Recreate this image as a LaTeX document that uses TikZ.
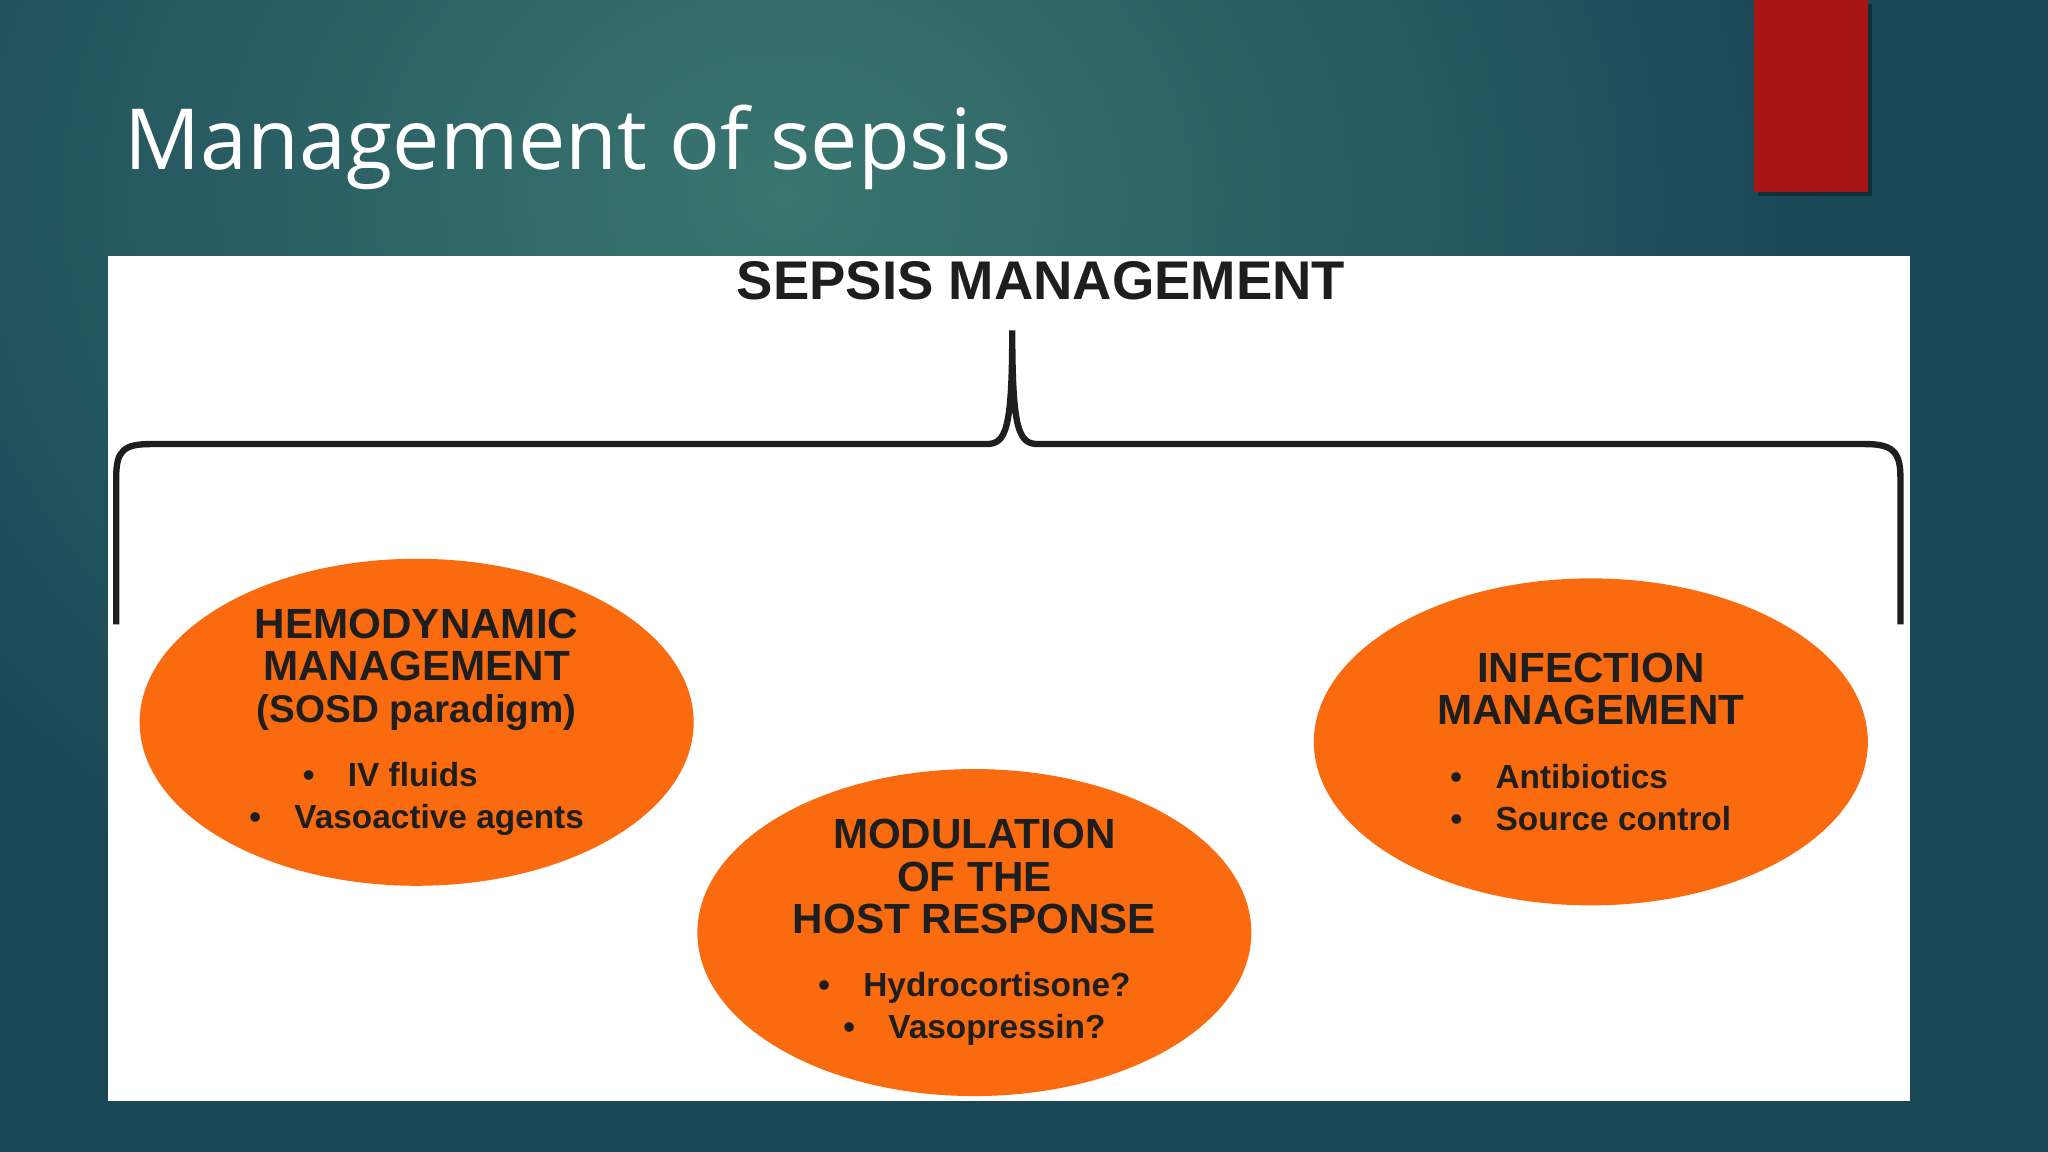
\documentclass[tikz,border=0pt]{standalone}
\usepackage{fontspec}
\setmainfont{Liberation Sans}
\newfontfamily\titlefont{Open Sans}
\usetikzlibrary{shapes.geometric,shadows}
\definecolor{bgdark}{HTML}{1A4756}
\definecolor{bglight}{HTML}{3A7670}
\definecolor{redbar}{HTML}{A81515}
\definecolor{orng}{HTML}{FA6A0E}
\definecolor{txt}{HTML}{1E1E1E}
\begin{document}
\begin{tikzpicture}[x=0.013061cm,y=-0.013061cm,
  oval/.style={ellipse,fill=orng,minimum width=5.54cm,minimum height=3.27cm,inner sep=0pt,align=center,text=txt,font=\bfseries},
]
\useasboundingbox (0,0) rectangle (1568,882);
\fill[bgdark] (0,0) rectangle (1568,882);
\shade[inner color=bglight,outer color=bgdark] (-200,-500) rectangle (1400,800);
\node[anchor=base west,text=white,font=\titlefont\fontsize{24}{30}\selectfont,inner sep=0] (title) at (95,130) {Management of sepsis};
\fill[black,opacity=0.35] (1346,3) rectangle (1433,150);
\fill[redbar] (1343,0) rectangle (1430,147);
\fill[white] (83,196) rectangle (1462,843);
\node[font=\fontsize{15.5}{18}\selectfont\bfseries,text=txt] (head) at (797,215) {SEPSIS MANAGEMENT};
\coordinate (bl) at (89,478);
\coordinate (br) at (1455,478);
\coordinate (peak) at (775,253);
\draw[line width=1.8pt,txt] (bl) -- (89,365) .. controls (89,345) and (95,340) .. (115,340) -- (755,340)
  .. controls (770,340) and (775,330) .. (peak) .. controls (775,330) and (780,340) .. (795,340) -- (1428,340)
  .. controls (1448,340) and (1455,345) .. (1455,365) -- (br);
\node[oval] (hemo) at (319,553) {\fontsize{12}{14.5}\selectfont HEMODYNAMIC\\ \fontsize{12}{14.5}\selectfont MANAGEMENT\\ \fontsize{11}{14.5}\selectfont (SOSD paradigm)\\[6pt]
  \fontsize{9.5}{11}\selectfont\hspace*{-15pt}•\quad IV fluids\\ \fontsize{9.5}{11}\selectfont •\quad Vasoactive agents};
\node[oval] (host) at (746,714) {\fontsize{12}{14.5}\selectfont MODULATION\\ \fontsize{12}{14.5}\selectfont OF THE\\ \fontsize{12}{14.5}\selectfont HOST RESPONSE\\[6pt]
  \fontsize{9.5}{11}\selectfont •\quad Hydrocortisone?\\ \fontsize{9.5}{11}\selectfont •\quad Vasopressin?};
\node[oval] (inf) at (1218,568) {\fontsize{12}{14.5}\selectfont INFECTION\\ \fontsize{12}{14.5}\selectfont MANAGEMENT\\[6pt]
  \fontsize{9.5}{11}\selectfont\hspace*{-18pt}•\quad Antibiotics\\ \fontsize{9.5}{11}\selectfont •\quad Source control};
\end{tikzpicture}
\end{document}
